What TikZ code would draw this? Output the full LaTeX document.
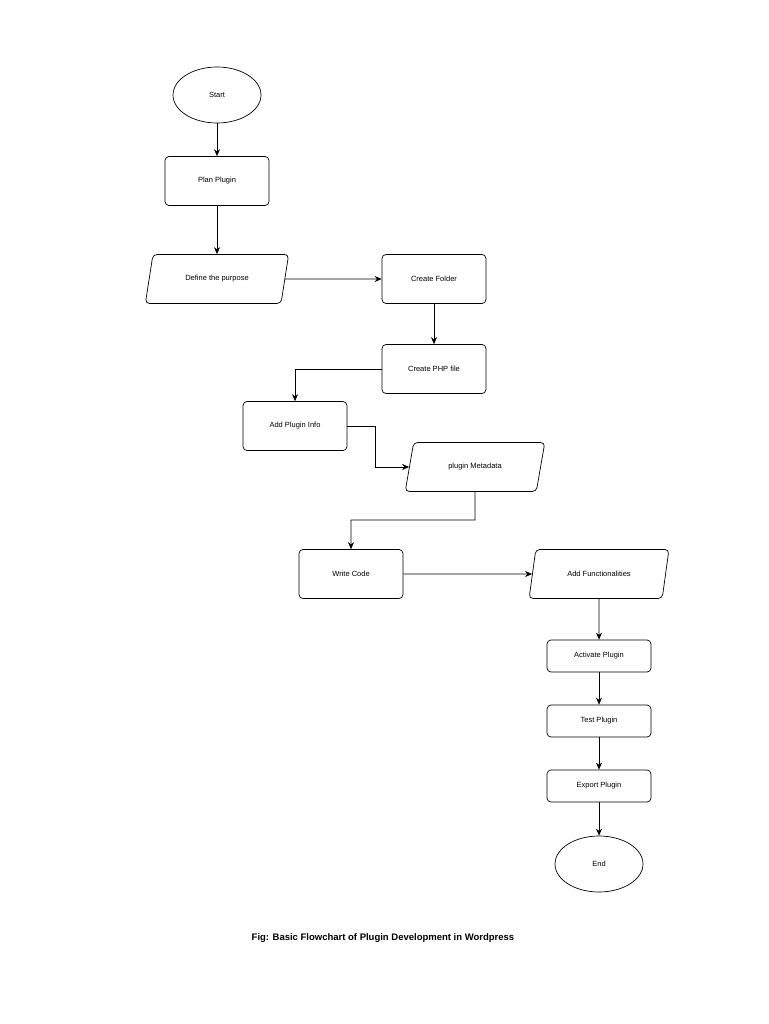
\documentclass[tikz,border=0pt]{standalone}
\usepackage{fontspec}
\setmainfont{Liberation Sans}
\usetikzlibrary{shapes.geometric,arrows.meta}
\begin{document}
\begin{tikzpicture}[x=1pt,y=-1pt,
  every node/.style={font=\fontsize{7.5}{9}\selectfont},
  box/.style={draw,rounded corners=4pt,minimum width=104pt,minimum height=49pt,line width=0.7pt},
  sbox/.style={box,minimum height=32pt},
  para/.style={draw,trapezium,trapezium left angle=73,trapezium right angle=107,trapezium stretches=true,rounded corners=4pt,minimum width=140pt,minimum height=49pt,line width=0.7pt},
  term/.style={draw,ellipse,minimum width=88pt,minimum height=56pt,line width=0.7pt},
  arr/.style={-{Stealth[length=7pt,width=6pt]},line width=0.7pt}]
\useasboundingbox (0,0) rectangle (768,1024);
\node[term] (start) at (217,95) {Start};
\node[box] (plan) at (217,181) {Plan Plugin};
\node[para,minimum width=144pt] (def) at (217,279) {Define the purpose};
\node[box] (fold) at (434,279) {Create Folder};
\node[box] (php) at (434,369) {Create PHP file};
\node[box] (info) at (295,426) {Add Plugin Info};
\node[para] (meta) at (475,467) {plugin Metadata};
\node[box] (code) at (351,574) {Write Code};
\node[para] (func) at (599,574) {Add Functionalities};
\node[sbox] (act) at (599,656) {Activate Plugin};
\node[sbox] (test) at (599,721) {Test Plugin};
\node[sbox] (exp) at (599,786) {Export Plugin};
\node[term] (end) at (599,864) {End};
\node[font=\bfseries\fontsize{9.5}{11}\selectfont] (cap) at (383,938) {Fig: Basic Flowchart of Plugin Development in Wordpress};
\draw[arr] (start) -- (plan);
\draw[arr] (plan) -- (def);
\draw[arr] (def) -- (fold);
\draw[arr] (fold) -- (php);
\draw[arr] (php.west) -| (info.north);
\draw[arr] (info.east) -- (375,426) |- (meta);
\draw[arr] (meta.south) -- (475,520) -| (code.north);
\draw[arr] (code) -- (func);
\draw[arr] (func) -- (act);
\draw[arr] (act) -- (test);
\draw[arr] (test) -- (exp);
\draw[arr] (exp) -- (end);
\end{tikzpicture}
\end{document}
